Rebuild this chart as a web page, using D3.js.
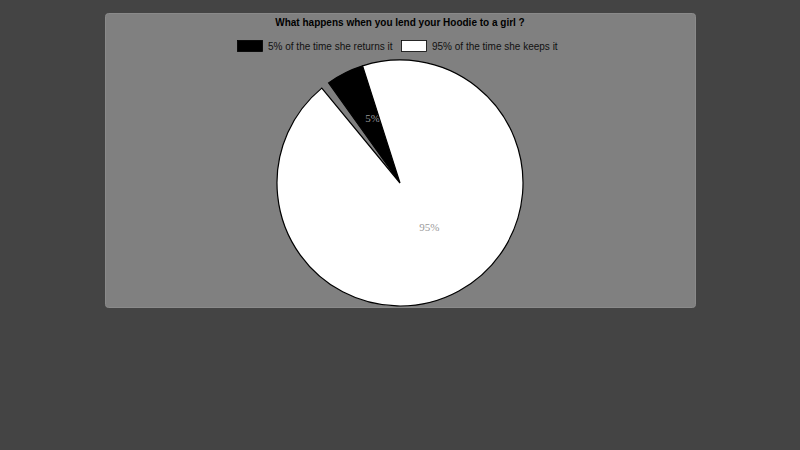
<!DOCTYPE html>
<html>
<head>
<meta charset="utf-8">
<script src="https://cdn.jsdelivr.net/npm/d3@7"></script>
<style>
  html, body { margin: 0; padding: 0; background: #444444; }
  svg { display: block; }
  .sans { font-family: "Liberation Sans", Arial, Helvetica, sans-serif; }
  .serif { font-family: "Liberation Serif", "Times New Roman", Times, serif; }
</style>
</head>
<body>
<div id="chart"></div>
<script>
// chart data
var title = "What happens when you lend your Hoodie to a girl ?";
var categories = ["5% of the time she returns it", "95% of the time she keeps it"];
var values = [5, 95];
var sliceLabels = ["5%", "95%"];

var width = 800, height = 450;
var svg = d3.select("#chart")
    .append("svg")
    .attr("width", width)
    .attr("height", height);

// grey panel
svg.append("rect")
    .attr("x", 105.5)
    .attr("y", 13.5)
    .attr("width", 590)
    .attr("height", 294)
    .attr("rx", 3)
    .attr("fill", "#808080")
    .attr("stroke", "#8a8a8a");

svg.append("text")
    .attr("class", "sans")
    .attr("x", 400)
    .attr("y", 26)
    .attr("text-anchor", "middle")
    .attr("font-size", 10)
    .attr("font-weight", "bold")
    .attr("fill", "#000")
    .text(title);

var color = d3.scaleOrdinal()
    .domain(categories)
    .range(["#000000", "#ffffff"]);

// legend
var legendX = d3.scaleOrdinal()
    .domain(categories)
    .range([237, 401]);

var legend = svg.selectAll(".legend")
    .data(categories)
    .enter().append("g")
    .attr("class", "legend")
    .attr("transform", function(d) { return "translate(" + legendX(d) + ",40)"; });

legend.append("rect")
    .attr("x", 0.5)
    .attr("y", 0.5)
    .attr("width", 25)
    .attr("height", 11)
    .attr("fill", function(d) { return color(d); })
    .attr("stroke", "#000")
    .attr("stroke-width", 0.8);

legend.append("text")
    .attr("class", "sans")
    .attr("x", 31)
    .attr("y", 6)
    .attr("dy", ".35em")
    .attr("font-size", 10)
    .attr("fill", "#111")
    .text(function(d) { return d; });

// pie
var cx = 400, cy = 183, radius = 123;
var gap = 4 * Math.PI / 180;
var start = -35.5 * Math.PI / 180;

var pie = d3.pie()
    .sort(null)
    .startAngle(start)
    .endAngle(start + 2 * Math.PI - gap)
    .value(function(d, i) { return values[i]; });

var arc = d3.arc().innerRadius(0).outerRadius(radius);

var g = svg.append("g")
    .attr("transform", "translate(" + cx + "," + cy + ")");

var slices = g.selectAll(".slice")
    .data(pie(categories))
    .enter().append("g")
    .attr("class", "slice");

slices.append("path")
    .attr("d", arc)
    .attr("fill", function(d) { return color(d.data); })
    .attr("stroke", "#000")
    .attr("stroke-width", 1.2);

slices.append("text")
    .attr("class", "serif")
    .attr("transform", function(d) {
        var c = arc.centroid(d);
        return "translate(" + c[0] + "," + (c[1] - 6) + ")";
    })
    .attr("text-anchor", "middle")
    .attr("font-size", 11)
    .attr("fill", "#9a9a9a")
    .text(function(d, i) { return sliceLabels[i]; });
</script>
</body>
</html>
